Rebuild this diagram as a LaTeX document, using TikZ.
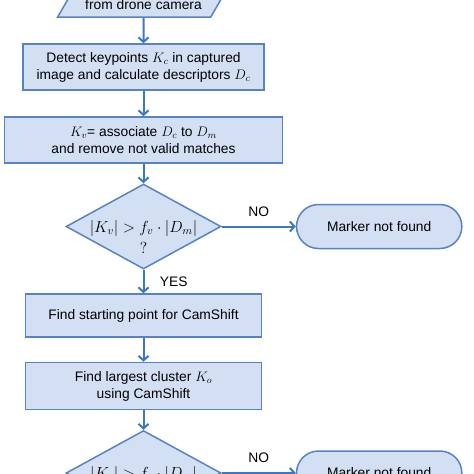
\RequirePackage{fix-cm}
\documentclass[tikz,border=0pt]{standalone}
\usepackage{fontspec}
\setmainfont{Liberation Sans}
\usetikzlibrary{arrows.meta,positioning,shapes.geometric,shapes.misc}
\definecolor{flowFill}{HTML}{D3E0F4}
\definecolor{flowBorder}{HTML}{5783C2}
\definecolor{flowArrow}{HTML}{3A78C6}

\begin{document}
\begin{tikzpicture}[
    node distance=24pt,
    every node/.style={font=\fontsize{13.8}{17}\selectfont, text=black},
    process/.style={rectangle, draw=flowBorder, fill=flowFill, line width=1.5pt, minimum width=236pt, minimum height=45pt, align=center, inner sep=2pt},
    io/.style={trapezium, trapezium left angle=62, trapezium right angle=118, trapezium stretches=true, draw=flowBorder, fill=flowFill, line width=1.5pt, minimum width=172pt, minimum height=32pt, inner ysep=3.5pt, text height=21pt, text depth=4pt},
    decision/.style={diamond, draw=flowBorder, fill=flowFill, line width=1.5pt, minimum width=155pt, minimum height=85pt, inner sep=0pt},
    test/.style={align=center, yshift=-10pt, font=\fontsize{16}{19}\selectfont},
    terminal/.style={rounded rectangle, draw=flowBorder, fill=flowFill, line width=1.5pt, minimum width=172pt, minimum height=44pt},
    arrow/.style={-{Straight Barb[length=4.5pt,width=10pt]}, line width=2pt, flowArrow},
    answer/.style={font=\fontsize{13.8}{17}\selectfont, text=black}
]
\useasboundingbox (0,0) rectangle (474pt,-474pt);
\clip (0,0) rectangle (474pt,-474pt);

% Main column
\node[io] (capture) at (143.5pt,-1pt) {from drone camera};
\node[process, minimum width=241pt, minimum height=46pt, below=25.5pt of capture] (detect) {Detect keypoints $K_c$ in captured\\image and calculate descriptors $D_c$};
\node[process, minimum width=278pt, minimum height=46pt, below=25.5pt of detect] (match) {$K_v$= associate $D_c$ to $D_m$\\and remove not valid matches};
\node[decision, below=19.5pt of match, label={[test]center:$|K_v| > f_v\cdot|D_m|$\\[2pt]$?$}] (check1) {};
\node[process, minimum height=43pt, below=23.5pt of check1] (start) {Find starting point for CamShift};
\node[process, minimum height=47pt, below=24pt of start] (cluster) {Find largest cluster $K_o$\\using CamShift};
\node[decision, below=19.5pt of cluster, label={[test]center:$|K_o| > f_o\cdot|D_m|$\\[2pt]$?$}] (check2) {};

% Failure exits
\node[terminal, right=74pt of check1] (fail1) {Marker not found};
\node[terminal, right=74pt of check2] (fail2) {Marker not found};

% Arrows
\draw[arrow] (capture) -- (detect);
\draw[arrow] (detect) -- (match);
\draw[arrow] (match) -- (check1);
\draw[arrow] (check1) -- node[answer, right=12pt] {YES} (start);
\draw[arrow] (check1) -- node[answer, above=6pt] {NO} (fail1);
\draw[arrow] (start) -- (cluster);
\draw[arrow] (cluster) -- (check2);
\draw[arrow] (check2) -- node[answer, above=6pt] {NO} (fail2);

\end{tikzpicture}
\end{document}
